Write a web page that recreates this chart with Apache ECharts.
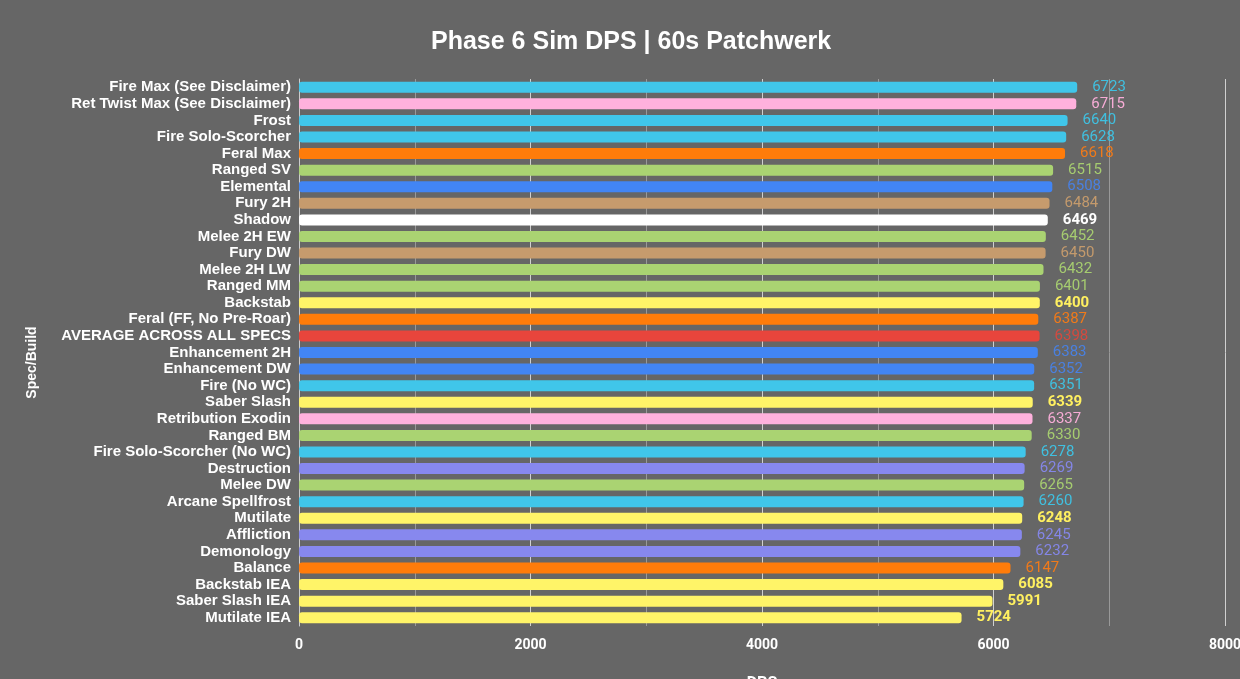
<!DOCTYPE html>
<html><head><meta charset="utf-8">
<script src="https://cdn.jsdelivr.net/npm/echarts@6/dist/echarts.min.js"></script>
<style>html,body{margin:0;padding:0;background:#666666;}#c{width:1240px;height:679px;}</style>
</head><body><div id="c"></div>
<script>
const categories = ["Fire Max (See Disclaimer)","Ret Twist Max (See Disclaimer)","Frost","Fire Solo-Scorcher","Feral Max","Ranged SV","Elemental","Fury 2H","Shadow","Melee 2H EW","Fury DW","Melee 2H LW","Ranged MM","Backstab","Feral (FF, No Pre-Roar)","AVERAGE ACROSS ALL SPECS","Enhancement 2H","Enhancement DW","Fire (No WC)","Saber Slash","Retribution Exodin","Ranged BM","Fire Solo-Scorcher (No WC)","Destruction","Melee DW","Arcane Spellfrost","Mutilate","Affliction","Demonology","Balance","Backstab IEA","Saber Slash IEA","Mutilate IEA"];
const dps = [6723,6715,6640,6628,6618,6515,6508,6484,6469,6452,6450,6432,6401,6400,6387,6398,6383,6352,6351,6339,6337,6330,6278,6269,6265,6260,6248,6245,6232,6147,6085,5991,5724];
const classes = ["mage","paladin","mage","mage","druid","hunter","shaman","warrior","priest","hunter","warrior","hunter","hunter","rogue","druid","average","shaman","shaman","mage","rogue","paladin","hunter","mage","warlock","hunter","mage","rogue","warlock","warlock","druid","rogue","rogue","rogue"];
const xTicks = [0,2000,4000,6000,8000];

const classColor = {mage:"#40c6ea",paladin:"#ffb1dd",druid:"#ff7c0a",hunter:"#aad372",shaman:"#4285f4",warrior:"#c69b6d",priest:"#ffffff",rogue:"#fff468",warlock:"#8788ee",average:"#e8453c"};
const labelColor = {mage:"#40c0e0",paladin:"#f7acd6",druid:"#f07a1a",hunter:"#a6cc70",shaman:"#4a80e0",warrior:"#c49a6c",priest:"#ffffff",rogue:"#fff060",warlock:"#8486e6",average:"#d44a3f"};

const chart = echarts.init(document.getElementById('c'), null, {renderer:'canvas'});
chart.setOption({
  backgroundColor:'#666666',
  animation:false,
  title:{text:'Phase 6 Sim DPS | 60s Patchwerk',left:426,top:25,
    textStyle:{color:'#ffffff',fontSize:25,fontWeight:'bold',fontFamily:'Liberation Sans, Arial, sans-serif'}},
  grid:{left:299,right:15,top:79,bottom:53,containLabel:false,outerBoundsMode:'none'},
  xAxis:{type:'value',min:0,max:8000,interval:2000,
    name:'DPS',nameLocation:'middle',nameGap:50,
    nameTextStyle:{color:'#ffffff',fontWeight:'bold',fontSize:16,fontFamily:'Roboto, sans-serif'},
    axisLine:{show:false},axisTick:{show:false},
    axisLabel:{color:'#ffffff',fontWeight:'bold',fontSize:14,fontFamily:'Roboto, sans-serif',margin:12,
      formatter:v=>xTicks.includes(v)?String(v):''},
    splitLine:{show:true,lineStyle:{color:'#d0d0d0',width:1}},
    minorTick:{show:false,splitNumber:2},
    minorSplitLine:{show:true,lineStyle:{color:'#999999',width:1}}
  },
  yAxis:{type:'category',data:categories,inverse:true,
    name:'Spec/Build',nameLocation:'middle',nameGap:260,nameRotate:90,
    nameTextStyle:{color:'#ffffff',fontWeight:'bold',fontSize:14,fontFamily:'Liberation Sans, Arial, sans-serif',padding:[0,20,0,0]},
    axisLine:{show:true,lineStyle:{color:'#cccccc',width:1}},axisTick:{show:false},
    axisLabel:{color:'#ffffff',fontWeight:'bold',fontSize:15,fontFamily:'Liberation Sans, Arial, sans-serif',margin:8,interval:0}
  },
  series:[{type:'bar',barWidth:11,
    data:dps.map((v,i)=>({value:v,
      itemStyle:{color:classColor[classes[i]],borderRadius:3},
      label:{color:labelColor[classes[i]],fontWeight:(classes[i]==='rogue'||classes[i]==='priest')?'bold':'normal'}})),
    label:{show:true,position:'right',distance:15,fontSize:15,fontFamily:'Roboto, sans-serif'}
  }]
});
</script></body></html>
